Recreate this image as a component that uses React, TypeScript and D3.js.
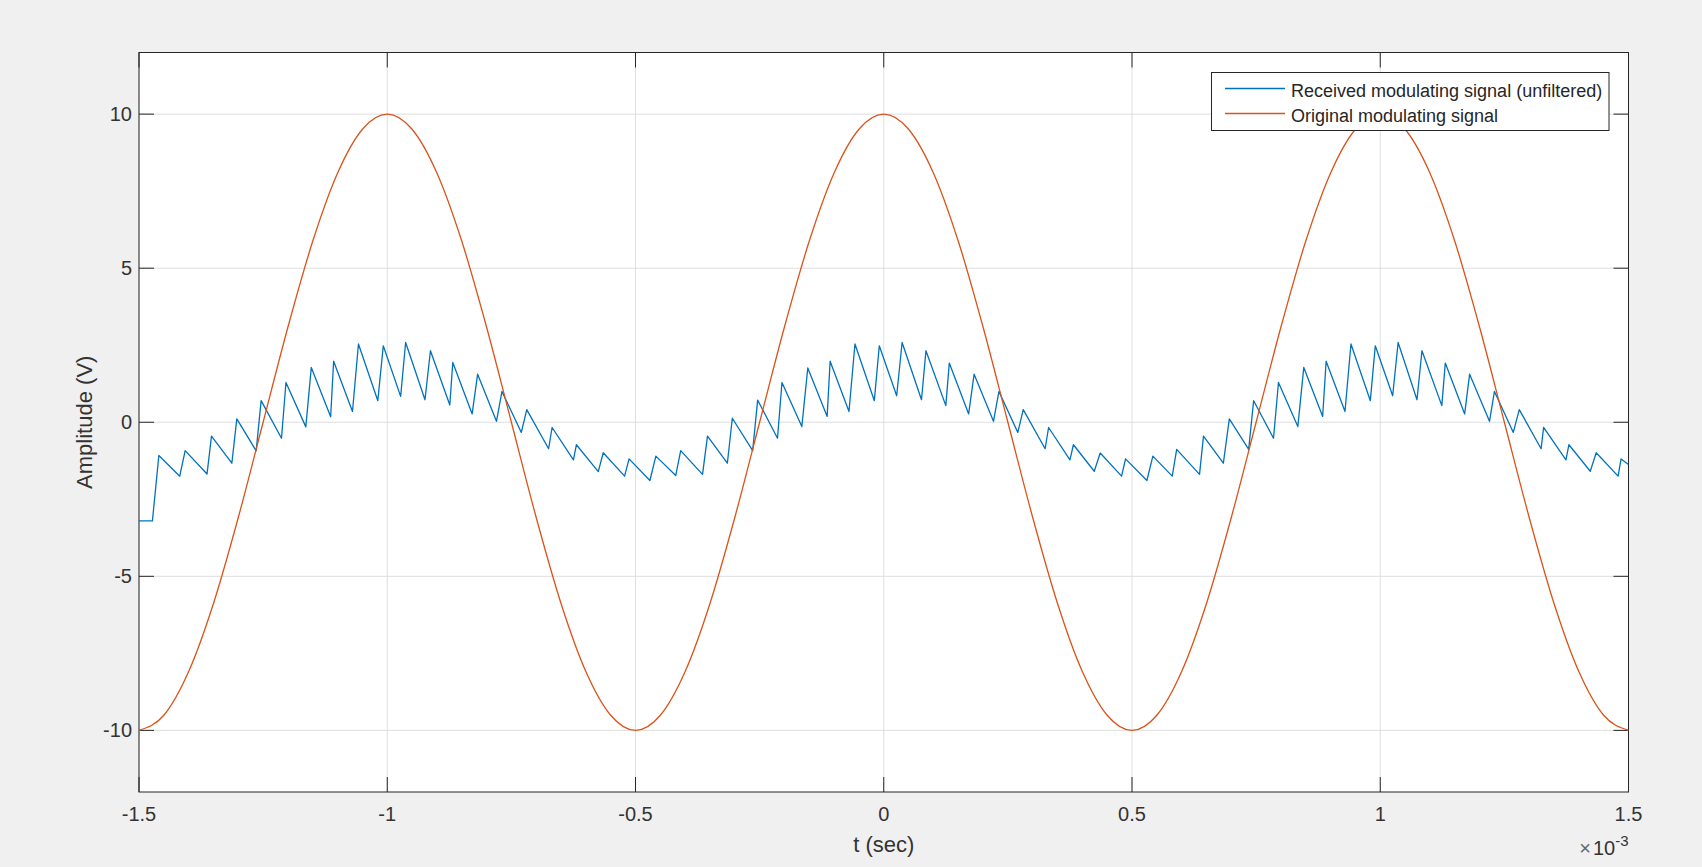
import React from "react";
import * as d3 from "d3";

// ---- data (time in ms, amplitude in V) ----
const xTicks = [-1.5, -1, -0.5, 0, 0.5, 1, 1.5];
const xTickLabels = ["-1.5", "-1", "-0.5", "0", "0.5", "1", "1.5"];
const yTicks = [-10, -5, 0, 5, 10];
const yTickLabels = ["-10", "-5", "0", "5", "10"];

// Original modulating signal, sampled every 0.05 ms from -1.5 to 1.5
const origT = [
  -1.5, -1.45, -1.4, -1.35, -1.3, -1.25, -1.2, -1.15, -1.1, -1.05,
  -1.0, -0.95, -0.9, -0.85, -0.8, -0.75, -0.7, -0.65, -0.6, -0.55,
  -0.5, -0.45, -0.4, -0.35, -0.3, -0.25, -0.2, -0.15, -0.1, -0.05,
  0.0, 0.05, 0.1, 0.15, 0.2, 0.25, 0.3, 0.35, 0.4, 0.45,
  0.5, 0.55, 0.6, 0.65, 0.7, 0.75, 0.8, 0.85, 0.9, 0.95,
  1.0, 1.05, 1.1, 1.15, 1.2, 1.25, 1.3, 1.35, 1.4, 1.45, 1.5,
];
const origV = [
  -10, -9.51, -8.09, -5.88, -3.09, 0, 3.09, 5.88, 8.09, 9.51,
  10, 9.51, 8.09, 5.88, 3.09, 0, -3.09, -5.88, -8.09, -9.51,
  -10, -9.51, -8.09, -5.88, -3.09, 0, 3.09, 5.88, 8.09, 9.51,
  10, 9.51, 8.09, 5.88, 3.09, 0, -3.09, -5.88, -8.09, -9.51,
  -10, -9.51, -8.09, -5.88, -3.09, 0, 3.09, 5.88, 8.09, 9.51,
  10, 9.51, 8.09, 5.88, 3.09, 0, -3.09, -5.88, -8.09, -9.51, -10,
];

// Received (unfiltered) signal: vertices (troughs / peaks)
const recvT = [
  -1.5, -1.473, -1.46, -1.418, -1.407, -1.363, -1.354, -1.313, -1.303, -1.264,
  -1.254, -1.213, -1.204, -1.164, -1.153, -1.114, -1.108, -1.07, -1.058, -1.019,
  -1.008, -0.973, -0.963, -0.924, -0.913, -0.874, -0.868, -0.829, -0.818, -0.78,
  -0.769, -0.73, -0.719, -0.675, -0.668, -0.625, -0.619, -0.575, -0.565, -0.522,
  -0.513, -0.471, -0.459, -0.419, -0.409, -0.365, -0.355, -0.315, -0.305, -0.264,
  -0.254, -0.214, -0.205, -0.165, -0.153, -0.114, -0.108, -0.07, -0.058, -0.019,
  -0.009, 0.026, 0.037, 0.076, 0.085, 0.125, 0.132, 0.171, 0.182, 0.221,
  0.232, 0.27, 0.281, 0.325, 0.332, 0.375, 0.382, 0.424, 0.436, 0.479,
  0.487, 0.53, 0.542, 0.581, 0.59, 0.636, 0.644, 0.684, 0.696, 0.735,
  0.745, 0.785, 0.795, 0.834, 0.846, 0.884, 0.891, 0.929, 0.941, 0.98,
  0.99, 1.025, 1.036, 1.074, 1.084, 1.124, 1.131, 1.17, 1.18, 1.22,
  1.23, 1.268, 1.28, 1.324, 1.329, 1.374, 1.38, 1.423, 1.435, 1.479,
  1.485, 1.5,
];
const recvV = [
  -3.2, -3.2, -1.08, -1.75, -0.92, -1.68, -0.45, -1.33, 0.11, -0.93,
  0.7, -0.52, 1.29, -0.15, 1.78, 0.18, 1.98, 0.35, 2.54, 0.7,
  2.48, 0.84, 2.59, 0.73, 2.32, 0.56, 1.94, 0.27, 1.56, 0.03,
  1.0, -0.33, 0.41, -0.86, -0.17, -1.22, -0.73, -1.6, -0.99, -1.75,
  -1.19, -1.89, -1.1, -1.73, -0.92, -1.69, -0.45, -1.33, 0.13, -0.92,
  0.72, -0.52, 1.29, -0.14, 1.76, 0.19, 1.98, 0.35, 2.54, 0.7,
  2.48, 0.86, 2.59, 0.73, 2.32, 0.54, 1.92, 0.27, 1.56, 0.03,
  1.0, -0.33, 0.41, -0.86, -0.17, -1.22, -0.73, -1.59, -1.0, -1.75,
  -1.19, -1.89, -1.1, -1.75, -0.88, -1.69, -0.45, -1.33, 0.11, -0.88,
  0.7, -0.52, 1.29, -0.14, 1.78, 0.19, 1.98, 0.35, 2.54, 0.7,
  2.48, 0.86, 2.59, 0.73, 2.32, 0.54, 1.92, 0.27, 1.56, 0.03,
  1.0, -0.33, 0.41, -0.86, -0.17, -1.22, -0.73, -1.59, -0.99, -1.75,
  -1.19, -1.37,
];

const legendLabels = ["Received modulating signal (unfiltered)", "Original modulating signal"];
const seriesColors = ["#0072BD", "#D95319"];

export default function App() {
  const W = 1702, H = 867;
  const L = 139, R = 1628.5, T = 52.5, B = 792;
  const x = d3.scaleLinear().domain([-1.5, 1.5]).range([L, R]);
  const y = d3.scaleLinear().domain([-12, 12]).range([B, T]);
  const tickLen = 15;
  const axisColor = "#262626";
  const textColor = "#333333";
  const font = "'Liberation Sans', Arial, Helvetica, sans-serif";

  const recv = recvT.map((t, i) => [t, recvV[i]] as [number, number]);
  const orig = origT.map((t, i) => [t, origV[i]] as [number, number]);
  const linearLine = d3.line<[number, number]>().x((d) => x(d[0])).y((d) => y(d[1]));
  const smoothLine = d3
    .line<[number, number]>()
    .x((d) => x(d[0]))
    .y((d) => y(d[1]))
    .curve(d3.curveMonotoneX);

  const legX = 1211.5, legY = 72.5, legW = 397.5, legH = 58;
  const legRows = [88.5, 113.5];

  return (
    <div style={{ position: "fixed", left: 0, top: 0, width: W, height: H, background: "#f0f0f0" }}>
      <svg width={W} height={H} style={{ display: "block", fontFamily: font }}>
        <rect x={0} y={0} width={W} height={H} fill="#f0f0f0" />
        <defs>
          <clipPath id="plotClip">
            <rect x={L} y={T} width={R - L} height={B - T} />
          </clipPath>
        </defs>
        <rect x={L} y={T} width={R - L} height={B - T} fill="#ffffff" />
        {/* grid */}
        {xTicks.map((t) => (
          <line key={"gx" + t} x1={x(t)} x2={x(t)} y1={T} y2={B} stroke="#dedede" strokeWidth={1} />
        ))}
        {yTicks.map((v) => (
          <line key={"gy" + v} x1={L} x2={R} y1={y(v)} y2={y(v)} stroke="#dedede" strokeWidth={1} />
        ))}
        {/* box */}
        <rect x={L} y={T} width={R - L} height={B - T} fill="none" stroke={axisColor} strokeWidth={1} />
        {/* ticks */}
        {xTicks.map((t) => (
          <g key={"tx" + t}>
            <line x1={x(t)} x2={x(t)} y1={B} y2={B - tickLen} stroke={axisColor} strokeWidth={1} />
            <line x1={x(t)} x2={x(t)} y1={T} y2={T + tickLen} stroke={axisColor} strokeWidth={1} />
          </g>
        ))}
        {yTicks.map((v) => (
          <g key={"ty" + v}>
            <line x1={L} x2={L + tickLen} y1={y(v)} y2={y(v)} stroke={axisColor} strokeWidth={1} />
            <line x1={R} x2={R - tickLen} y1={y(v)} y2={y(v)} stroke={axisColor} strokeWidth={1} />
          </g>
        ))}
        {/* data */}
        <g clipPath="url(#plotClip)">
          <path d={linearLine(recv) || ""} fill="none" stroke={seriesColors[0]} strokeWidth={1.3} strokeLinejoin="round" />
          <path d={smoothLine(orig) || ""} fill="none" stroke={seriesColors[1]} strokeWidth={1.3} />
        </g>
        {/* tick labels */}
        {xTicks.map((t, i) => (
          <text key={"lx" + t} x={x(t)} y={821} textAnchor="middle" fontSize={20} fill={textColor}>
            {xTickLabels[i]}
          </text>
        ))}
        {yTicks.map((v, i) => (
          <text key={"ly" + v} x={132} y={y(v) + 7} textAnchor="end" fontSize={20} fill={textColor}>
            {yTickLabels[i]}
          </text>
        ))}
        {/* exponent */}
        <text x={R} y={855} textAnchor="end" fill={textColor} fontSize={20}>
          <tspan fill="#666" fontSize={20}>×</tspan>
          <tspan dx={2}>10</tspan>
          <tspan fontSize={15} dy={-9}>-3</tspan>
        </text>
        {/* axis labels */}
        <text x={(L + R) / 2} y={852} textAnchor="middle" fontSize={22} fill={textColor}>
          t (sec)
        </text>
        <text transform={`translate(91.5, ${(T + B) / 2}) rotate(-90)`} textAnchor="middle" fontSize={22} fill={textColor}>
          Amplitude (V)
        </text>
        {/* legend */}
        <rect x={legX} y={legY} width={legW} height={legH} fill="#ffffff" stroke={axisColor} strokeWidth={1} />
        {legendLabels.map((lab, i) => (
          <g key={lab}>
            <line x1={1225} x2={1285} y1={legRows[i]} y2={legRows[i]} stroke={seriesColors[i]} strokeWidth={1.3} />
            <text x={1291} y={legRows[i] + 8} fontSize={18} fill={axisColor}>
              {lab}
            </text>
          </g>
        ))}
      </svg>
    </div>
  );
}
